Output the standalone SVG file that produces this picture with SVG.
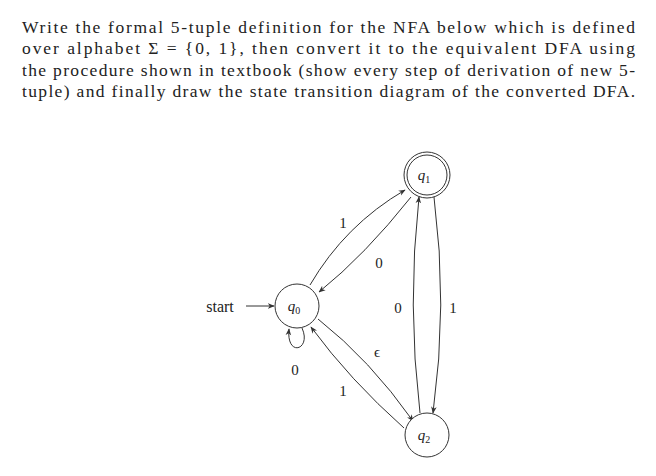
<svg xmlns="http://www.w3.org/2000/svg" width="656" height="476" viewBox="0 0 656 476">
<style>
.t{font-family:"Liberation Serif",serif;font-size:17.5px;fill:#222}
.l{font-family:"Liberation Serif",serif;font-size:15px;fill:#222;text-anchor:middle}
.q{font-family:"Liberation Serif",serif;font-style:italic;font-size:15px;fill:#222;text-anchor:middle}
.s{font-family:"Liberation Serif",serif;font-size:10px;fill:#222}
.n{fill:#fff;stroke:#333;stroke-width:1}
.e{fill:none;stroke:#333;stroke-width:1;marker-end:url(#a)}
</style>
<defs><marker id="a" viewBox="0 0 10 10" refX="9" refY="5" markerWidth="7" markerHeight="7" orient="auto"><path d="M0,1 L10,5 L0,9 L3,5 Z" fill="#333"/></marker></defs>
<rect width="656" height="476" fill="#fff"/>
<g id="text">
<text class="t" x="22" y="33" textLength="613" lengthAdjust="spacing">Write the formal 5-tuple definition for the NFA below which is defined</text>
<text class="t" x="22" y="54" textLength="613" lengthAdjust="spacing">over alphabet Σ = {0, 1}, then convert it to the equivalent DFA using</text>
<text class="t" x="22" y="76" textLength="613" lengthAdjust="spacing">the procedure shown in textbook (show every step of derivation of new 5-</text>
<text class="t" x="22" y="97" textLength="613" lengthAdjust="spacing">tuple) and finally draw the state transition diagram of the converted DFA.</text>
</g>
<g id="connectors">
<path class="e" d="M246,306 L274,306"/>
<path class="e" d="M310,285 Q345,225 405,190"/>
<path class="e" d="M411,197 Q365,255 319,292"/>
<path class="e" d="M434,197 Q448,305 433,413"/>
<path class="e" d="M420,413 Q407,305 419,197"/>
<path class="e" d="M318,319 Q370,360 413,421"/>
<path class="e" d="M404,428 Q350,380 311,327"/>
<path class="e" d="M302,328 C312,350 286,358 289,329"/>
</g>
<g class="l">
<text x="220" y="312" class="l" style="font-size:16px">start</text>
<text x="343" y="228">1</text>
<text x="379" y="268">0</text>
<text x="398" y="313">0</text>
<text x="453" y="313">1</text>
<text x="377" y="357">ϵ</text>
<text x="343" y="396">1</text>
<text x="295" y="375">0</text>
</g>
<g id="q0"><circle class="n" cx="297" cy="306" r="22"/><text class="q" x="294" y="311">q<tspan class="s" font-style="normal" dy="3">0</tspan></text></g>
<g id="q1"><circle class="n" cx="427" cy="175" r="23"/><circle class="n" cx="427" cy="175" r="20"/><text class="q" x="424" y="180">q<tspan class="s" font-style="normal" dy="3">1</tspan></text></g>
<g id="q2"><circle class="n" cx="427" cy="435" r="22"/><text class="q" x="424" y="440">q<tspan class="s" font-style="normal" dy="3">2</tspan></text></g>
</svg>
